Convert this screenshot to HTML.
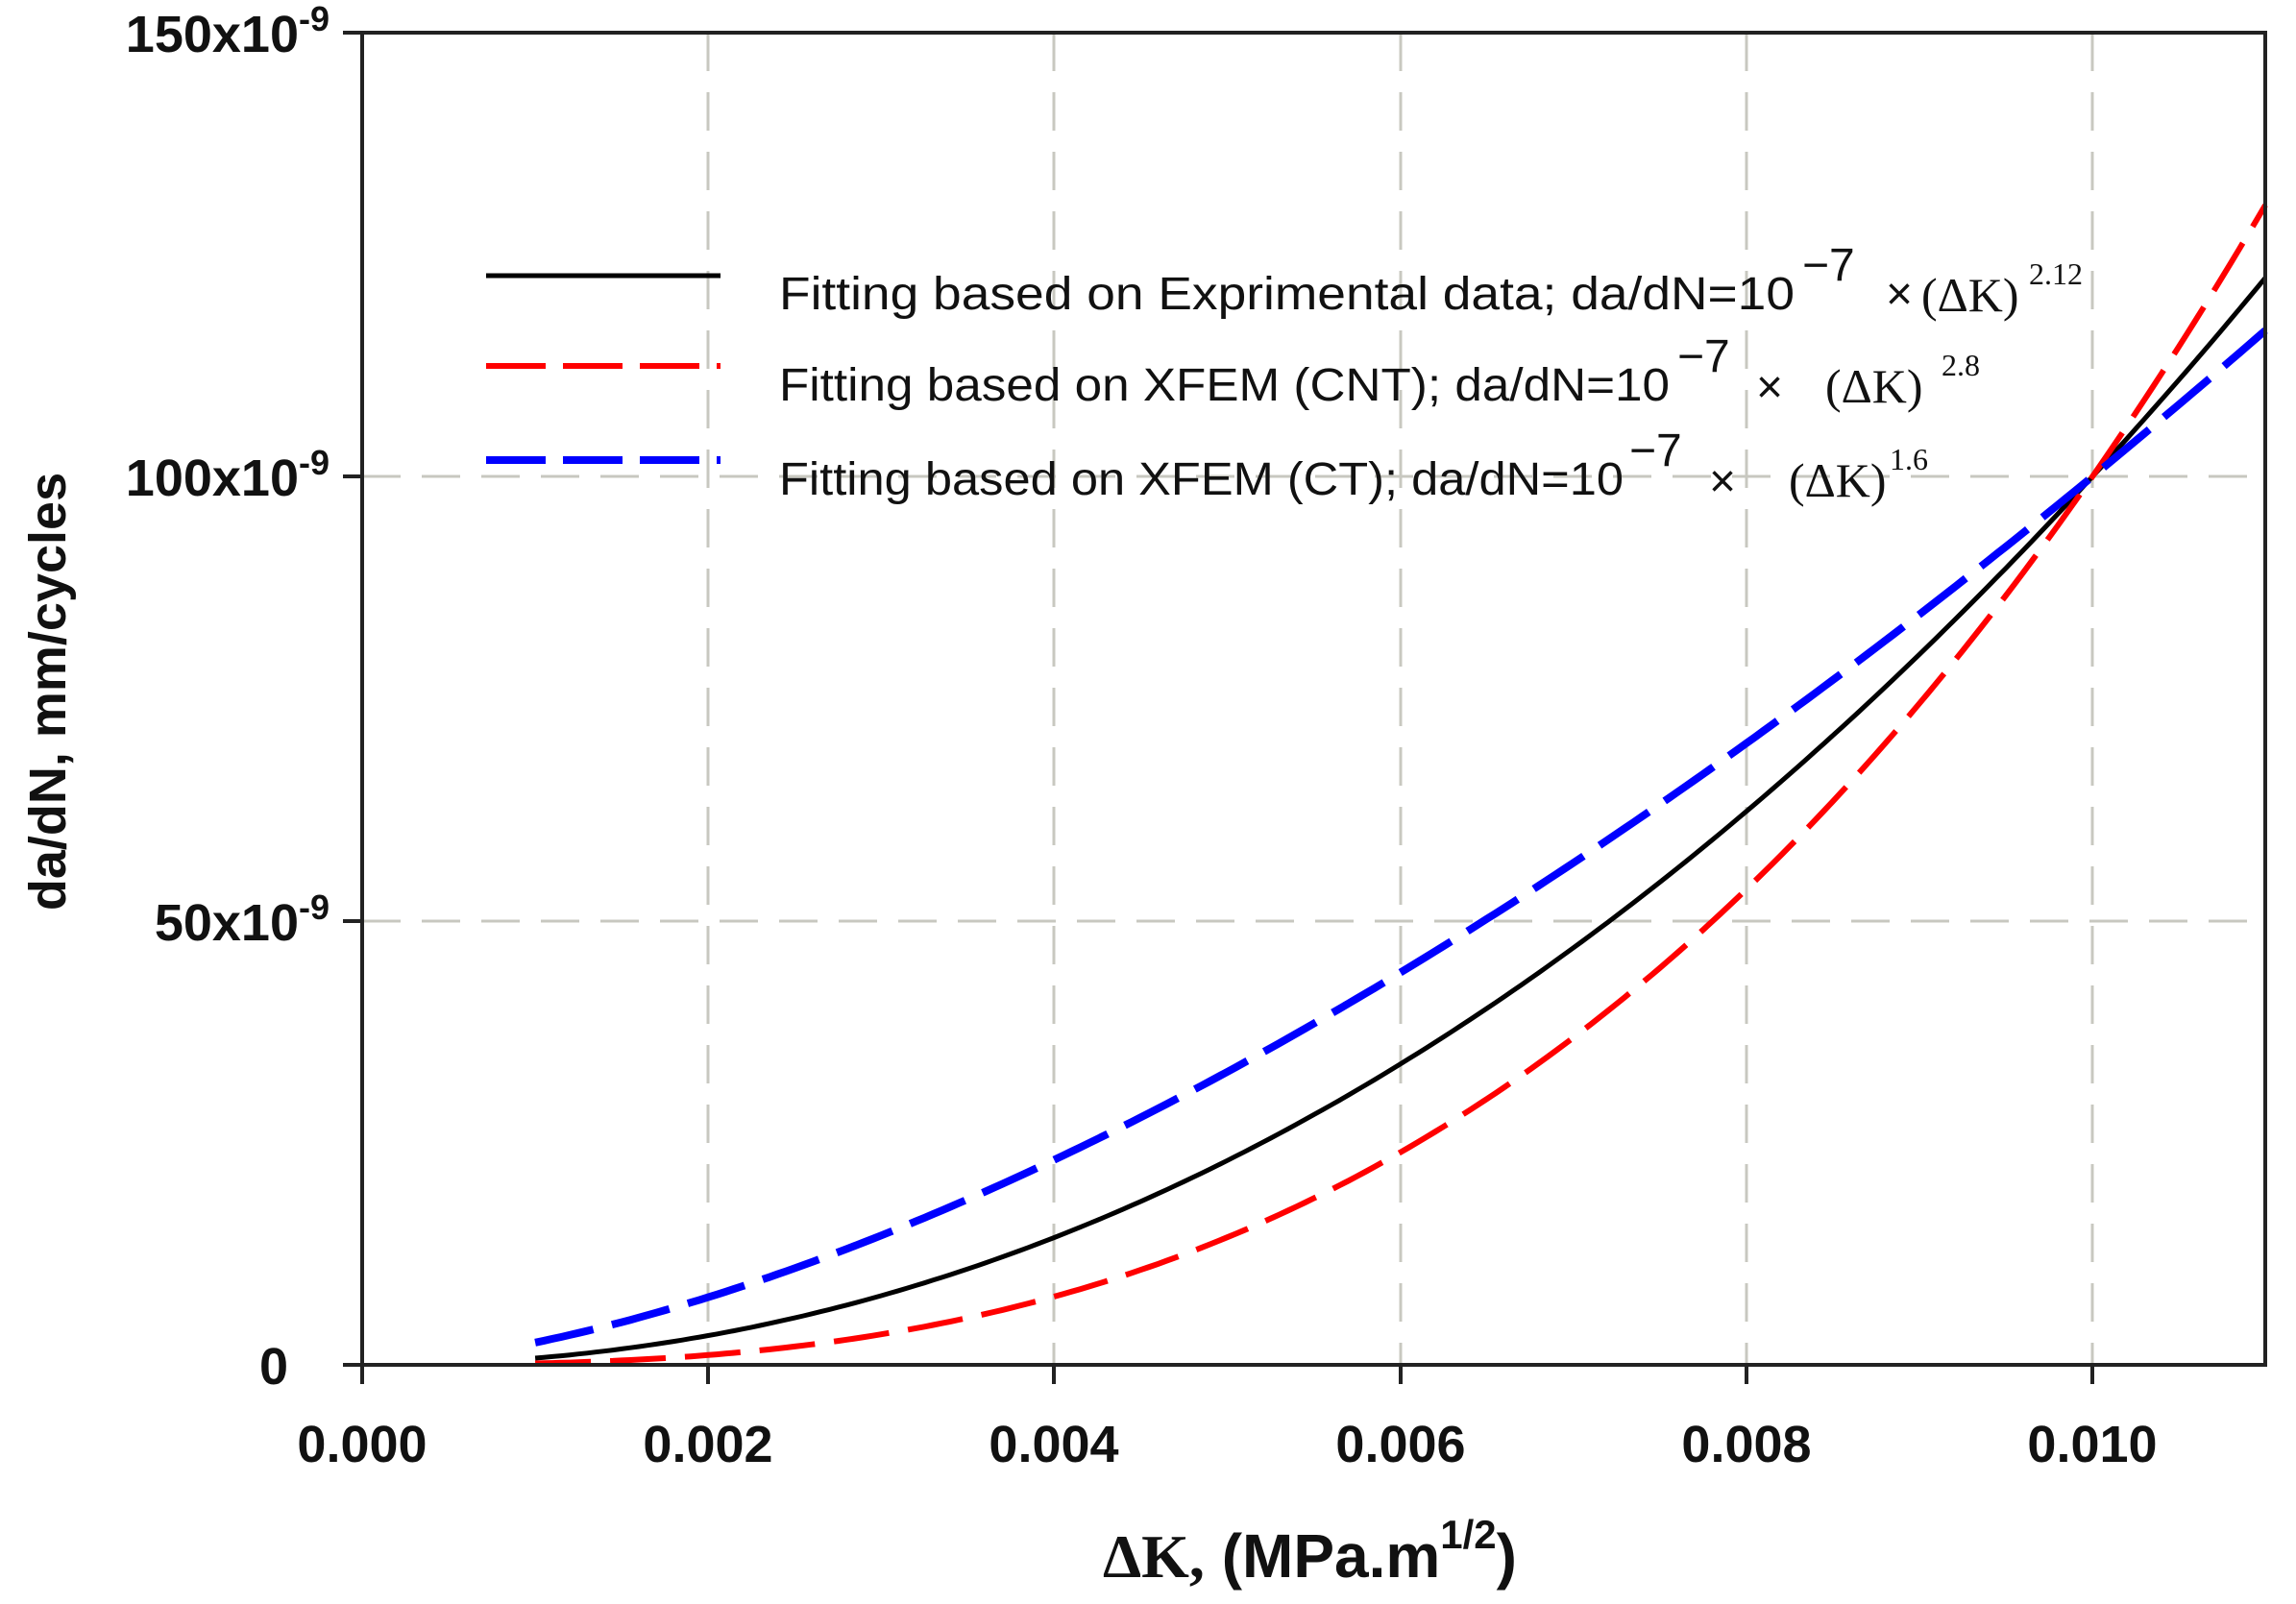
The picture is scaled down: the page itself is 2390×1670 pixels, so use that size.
<!DOCTYPE html>
<html><head><meta charset="utf-8"><style>
html,body{margin:0;padding:0;background:#fff;}
svg{display:block;}
.t{font-family:"Liberation Sans",sans-serif;font-weight:bold;font-size:54px;fill:#111;}
.l{font-family:"Liberation Sans",sans-serif;font-size:48px;fill:#111;}
.s{font-family:"Liberation Serif",serif;font-size:50px;fill:#111;}
.ss{font-family:"Liberation Serif",serif;font-size:32px;fill:#111;}
</style></head><body>
<svg id="c" width="2390" height="1670" xmlns="http://www.w3.org/2000/svg">
<rect width="2390" height="1670" fill="#fff"/>
<g stroke="#c8c8c0" stroke-width="3" stroke-dasharray="40,22">
<line x1="737" y1="34" x2="737" y2="1421"/>
<line x1="1097" y1="34" x2="1097" y2="1421"/>
<line x1="1458" y1="34" x2="1458" y2="1421"/>
<line x1="1818" y1="34" x2="1818" y2="1421"/>
<line x1="2178" y1="34" x2="2178" y2="1421"/>
<line x1="377" y1="959" x2="2358" y2="959"/>
<line x1="377" y1="496" x2="2358" y2="496"/>
</g>
<g id="curves" fill="none"></g>
<rect x="377" y="34" width="1981" height="1387" fill="none" stroke="#222" stroke-width="4"/>
<g stroke="#222" stroke-width="4">
<line x1="357" y1="34" x2="377" y2="34"/><line x1="357" y1="496" x2="377" y2="496"/>
<line x1="357" y1="959" x2="377" y2="959"/><line x1="357" y1="1421" x2="377" y2="1421"/>
<line x1="377" y1="1421" x2="377" y2="1441"/><line x1="737" y1="1421" x2="737" y2="1441"/>
<line x1="1097" y1="1421" x2="1097" y2="1441"/><line x1="1458" y1="1421" x2="1458" y2="1441"/>
<line x1="1818" y1="1421" x2="1818" y2="1441"/><line x1="2178" y1="1421" x2="2178" y2="1441"/>
</g>
<g class="t" text-anchor="end">
<text x="343" y="54">150x10<tspan dy="-22" font-size="36">-9</tspan></text>
<text x="343" y="516">100x10<tspan dy="-22" font-size="36">-9</tspan></text>
<text x="343" y="979">50x10<tspan dy="-22" font-size="36">-9</tspan></text>
<text x="300" y="1441">0</text>
</g>
<g class="t" text-anchor="middle">
<text x="377" y="1522">0.000</text><text x="737" y="1522">0.002</text>
<text x="1097" y="1522">0.004</text><text x="1458" y="1522">0.006</text>
<text x="1818" y="1522">0.008</text><text x="2178" y="1522">0.010</text>
</g>
<text class="t" transform="translate(68,720) rotate(-90)" text-anchor="middle" font-size="46">da/dN, mm/cycles</text>
<text x="1148" y="1642" font-family="Liberation Serif,serif" font-size="64" font-weight="bold" fill="#111">ΔK,<tspan font-family="Liberation Sans,sans-serif"> (MPa.m</tspan><tspan font-family="Liberation Sans,sans-serif" font-size="42" dy="-30">1/2</tspan><tspan font-family="Liberation Sans,sans-serif" dy="30">)</tspan></text>
<line x1="506" y1="287" x2="750" y2="287" stroke="#000" stroke-width="5"/>
<line x1="506" y1="381" x2="750" y2="381" stroke="#f00" stroke-width="6" stroke-dasharray="62,18"/>
<line x1="506" y1="479" x2="750" y2="479" stroke="#00f" stroke-width="8" stroke-dasharray="62,18"/>
<text class="l" x="811" y="322" textLength="1057" lengthAdjust="spacingAndGlyphs">Fitting based on Exprimental data; da/dN=10</text>
<text class="l" x="1876" y="292">−7</text><text class="l" x="1963" y="322" font-size="38">×</text>
<text class="s" x="2000" y="324">(ΔK)</text><text class="ss" x="2112" y="296">2.12</text>
<text class="l" x="811" y="417" textLength="927" lengthAdjust="spacingAndGlyphs">Fitting based on XFEM (CNT); da/dN=10</text>
<text class="l" x="1746" y="387">−7</text><text class="l" x="1828" y="419" font-size="38">×</text>
<text class="s" x="1900" y="419">(ΔK)</text><text class="ss" x="2021" y="391">2.8</text>
<text class="l" x="811" y="515" textLength="879" lengthAdjust="spacingAndGlyphs">Fitting based on XFEM (CT); da/dN=10</text>
<text class="l" x="1696" y="485">−7</text><text class="l" x="1779" y="517" font-size="38">×</text>
<text class="s" x="1862" y="517">(ΔK)</text><text class="ss" x="1967" y="489">1.6</text>
<script>
(function(){
var ns="http://www.w3.org/2000/svg";
var g=document.getElementById("curves");
function X(k){return 377+k/0.001*180.1;}
function Y(v){return 1421-v*9.247;}
var s=[[2.12,"#000","",5],[2.8,"#f00","58,20",6],[1.6,"#00f","62,20",8]];
s.forEach(function(a){
 var d="";
 for(var i=0;i<=200;i++){var k=0.001+0.01*i/200;var v=100*Math.pow(k/0.01,a[0]);
 d+=(i?"L":"M")+X(k).toFixed(1)+","+Y(v).toFixed(1);}
 var p=document.createElementNS(ns,"path");p.setAttribute("d",d);p.setAttribute("stroke",a[1]);
 p.setAttribute("stroke-width",a[3]);if(a[2])p.setAttribute("stroke-dasharray",a[2]);g.appendChild(p);
});
})();
</script>
</svg>
</body></html>
